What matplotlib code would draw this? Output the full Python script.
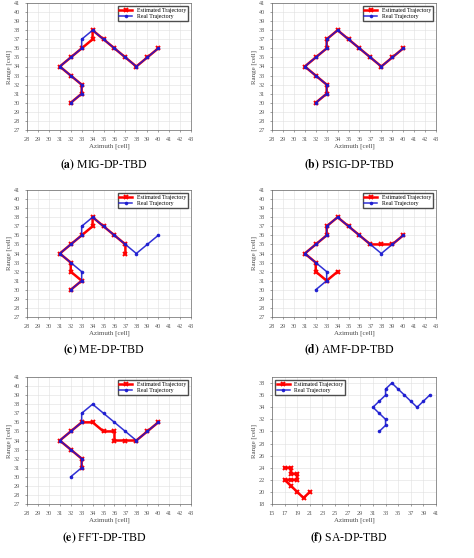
import matplotlib.pyplot as plt

plt.rcParams['font.family'] = 'Liberation Serif'
plt.rcParams['mathtext.fontset'] = 'stix'

real_x = [32, 33, 33, 32, 31, 32, 33, 33, 34, 35, 36, 37, 38, 39, 40]
real_y = [30, 31, 32, 33, 34, 35, 36, 37, 38, 37, 36, 35, 34, 35, 36]

mig_x = [32, 33, 33, 32, 31, 32, 33, 34, 34, 35, 36, 37, 38, 39, 40]
mig_y = [30, 31, 32, 33, 34, 35, 36, 37, 38, 37, 36, 35, 34, 35, 36]

psig_x = list(real_x)
psig_y = list(real_y)

me_x = [32, 33, 32, 32, 31, 32, 33, 34, 34, 35, 36, 37, 37]
me_y = [30, 31, 32, 33, 34, 35, 36, 37, 38, 37, 36, 35, 34]

amf_x = [34, 33, 32, 32, 31, 32, 33, 33, 34, 35, 36, 37, 38, 39, 40]
amf_y = [32, 31, 32, 33, 34, 35, 36, 37, 38, 37, 36, 35, 35, 35, 36]

fft_x = [33, 33, 32, 31, 32, 33, 34, 35, 36, 36, 37, 38, 39, 40]
fft_y = [31, 32, 33, 34, 35, 36, 36, 35, 35, 34, 34, 34, 35, 36]

sa_x = [17, 18, 18, 19, 19, 18, 17, 18, 19, 20, 21]
sa_y = [24, 24, 23, 23, 22, 22, 22, 21, 20, 19, 20]

panels = [
    ("(a)", "MIG-DP-TBD", mig_x, mig_y),
    ("(b)", "PSIG-DP-TBD", psig_x, psig_y),
    ("(c)", "ME-DP-TBD", me_x, me_y),
    ("(d)", "AMF-DP-TBD", amf_x, amf_y),
    ("(e)", "FFT-DP-TBD", fft_x, fft_y),
    ("(f)", "SA-DP-TBD", sa_x, sa_y),
]

W, H = 474, 558
fig = plt.figure(figsize=(W / 100, H / 100), dpi=100)

col_left = [27, 272]
row_top = [3, 190, 377]
aw, ah = 164, 127
cap_y = [165, 350, 538]

for i, (tag, name, ex, ey) in enumerate(panels):
    r, c = divmod(i, 2)
    x0 = col_left[c]
    y0 = row_top[r]
    ax = fig.add_axes([x0 / W, 1 - (y0 + ah) / H, aw / W, ah / H])
    ax.plot(ex, ey, color='red', lw=1.8, marker='x', ms=3.5, mew=1.4,
            label='Estimated Trajectory', zorder=2)
    ax.plot(real_x, real_y, color='#1a1ad0', lw=1.1, marker='o', ms=1.6,
            alpha=0.9, label='Real Trajectory', zorder=3)
    if i < 5:
        ax.set_xlim(28, 43)
        ax.set_ylim(27, 41)
        ax.set_xticks(range(28, 44))
        ax.set_yticks(range(27, 42))
        loc = 'upper right'
    else:
        ax.set_xlim(15, 41)
        ax.set_ylim(18, 39)
        ax.set_xticks(range(15, 42, 2))
        ax.set_yticks(range(18, 39, 2))
        loc = 'upper left'
    ax.legend(loc=loc, fontsize=4.2, framealpha=1, fancybox=False,
              edgecolor='0.3', handlelength=2.2, borderpad=0.3,
              labelspacing=0.2)
    ax.grid(True, color='0.88', lw=0.4)
    ax.tick_params(labelsize=4.5, length=1.5, width=0.4, colors='0.35')
    for s in ax.spines.values():
        s.set_linewidth(0.5)
        s.set_color('0.4')
    ax.set_xlabel('Azimuth [cell]', fontsize=5, color='0.3', labelpad=1)
    ax.set_ylabel('Range [cell]', fontsize=5, color='0.3', labelpad=1)
    fig.text((x0 + aw / 2 - 5) / W, 1 - cap_y[r] / H,
             r"$\mathbf{" + tag + "}$ " + name, ha='center', va='center',
             fontsize=8.5)

fig.savefig('out.png', dpi=100)
